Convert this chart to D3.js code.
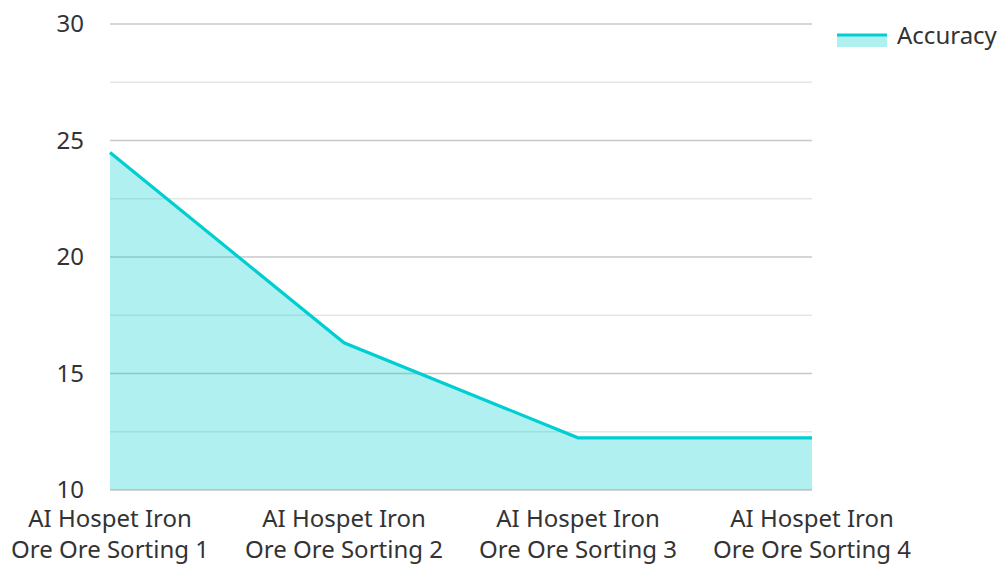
<!DOCTYPE html>
<html>
<head>
<meta charset="utf-8">
<script src="https://cdn.jsdelivr.net/npm/d3@7"></script>
<style>
  html, body { margin: 0; padding: 0; background: #fff; }
  svg { display: block; font-family: "Noto Sans", "Open Sans", sans-serif; }
</style>
</head>
<body>
<svg id="chart" width="1002" height="564"></svg>
<script>
// Accuracy per sorting run
const categories = [
  ["AI Hospet Iron", "Ore Ore Sorting 1"],
  ["AI Hospet Iron", "Ore Ore Sorting 2"],
  ["AI Hospet Iron", "Ore Ore Sorting 3"],
  ["AI Hospet Iron", "Ore Ore Sorting 4"]
];
const accuracy = [24.48, 16.32, 12.24, 12.24];
const yTicks = [10, 15, 20, 25, 30];
const yMinorTicks = [12.5, 17.5, 22.5, 27.5];
const seriesName = "Accuracy";

const lineColor = "rgb(0,206,209)";
const fillColor = "rgba(0,206,209,0.31)";
const textColor = "#333";
const fontSize = 24;
const fontFamily = "'Noto Sans', 'Open Sans', sans-serif";

const svg = d3.select("#chart");
const margin = { left: 110, right: 190, top: 24, bottom: 74 };
const width = 1002, height = 564;

const x = d3.scalePoint()
  .domain(d3.range(categories.length))
  .range([margin.left, width - margin.right]);
const y = d3.scaleLinear()
  .domain([10, 30])
  .range([height - margin.bottom, margin.top]);

// minor grid
svg.append("g")
  .selectAll("line")
  .data(yMinorTicks)
  .join("line")
  .attr("x1", margin.left).attr("x2", width - margin.right)
  .attr("y1", d => y(d)).attr("y2", d => y(d))
  .attr("stroke", "#e6e6e6").attr("stroke-width", 1.5);

// major grid
svg.append("g")
  .selectAll("line")
  .data(yTicks)
  .join("line")
  .attr("x1", margin.left).attr("x2", width - margin.right)
  .attr("y1", d => y(d)).attr("y2", d => y(d))
  .attr("stroke", "#c8c8c8").attr("stroke-width", 1.5);

// area + line
const area = d3.area()
  .x((d, i) => x(i))
  .y0(y(10))
  .y1(d => y(d));
const line = d3.line()
  .x((d, i) => x(i))
  .y(d => y(d));

svg.append("path")
  .datum(accuracy)
  .attr("d", area)
  .attr("fill", fillColor);

svg.append("path")
  .datum(accuracy)
  .attr("d", line)
  .attr("fill", "none")
  .attr("stroke", lineColor)
  .attr("stroke-width", 3.2)
  .attr("stroke-linejoin", "miter");

// y axis labels
const yAxis = d3.axisLeft(y).tickValues(yTicks).tickSize(0).tickPadding(26);
const gy = svg.append("g")
  .attr("transform", `translate(${margin.left},0)`)
  .call(yAxis);
gy.select(".domain").remove();
gy.selectAll("text")
  .attr("font-family", fontFamily)
  .attr("font-size", fontSize)
  .attr("fill", textColor);

// x axis labels (two lines each)
const gx = svg.append("g");
categories.forEach((lines, i) => {
  const t = gx.append("text")
    .attr("x", x(i))
    .attr("y", 527)
    .attr("text-anchor", "middle")
    .attr("font-size", fontSize)
    .attr("fill", textColor);
  lines.forEach((s, j) => {
    t.append("tspan")
      .attr("x", x(i))
      .attr("dy", j === 0 ? 0 : 31)
      .text(s);
  });
});

// legend
const lg = svg.append("g").attr("transform", "translate(837,35)");
lg.append("rect").attr("x", 0).attr("y", 0).attr("width", 50).attr("height", 12).attr("fill", fillColor);
lg.append("line").attr("x1", 0).attr("x2", 50).attr("y1", 0).attr("y2", 0)
  .attr("stroke", lineColor).attr("stroke-width", 3.2);
lg.append("text").attr("x", 60).attr("y", 9)
  .attr("font-size", fontSize).attr("fill", textColor)
  .text(seriesName);
</script>
</body>
</html>
